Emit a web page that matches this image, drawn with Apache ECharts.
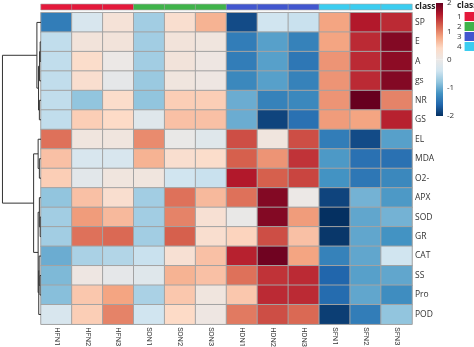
<!DOCTYPE html>
<html><head><meta charset="utf-8">
<script src="https://cdn.jsdelivr.net/npm/echarts@6/dist/echarts.min.js"></script>
<style>html,body{margin:0;padding:0;background:#fff}#c{width:474px;height:347px}</style>
</head><body><div id="c"></div>
<script>
const samples = ['HFN1','HFN2','HFN3','SDN1','SDN2','SDN3','HDN1','HDN2','HDN3','SFN1','SFN2','SFN3'];
const classes = [1,1,1,2,2,2,3,3,3,4,4,4];
const classColors = ['#e4193b','#3fb34a','#4257cf','#3bcdf0'];
const features = ['SP','E','A','gs','NR','GS','EL','MDA','O2-','APX','SOD','GR','CAT','SS','Pro','POD'];
// z-scores per feature, columns in sample order
const vSP  = [-1.4,-0.3, 0.2,-0.7, 0.3, 0.7,-1.8,-0.4,-0.45, 0.8, 1.6, 1.5];
const vE   = [-0.5, 0.15, 0.15,-0.7, 0.15, 0.1,-1.4,-1.1,-1.35, 0.8, 1.5, 1.85];
const vA   = [-0.5, 0.35, 0.0,-0.7, 0.15, 0.05,-1.4,-1.1,-1.45, 0.9, 1.5, 1.8];
const vgs  = [-0.5, 0.3,-0.1,-0.75, 0.1, 0.05,-1.3,-1.1,-1.35, 0.9, 1.5, 1.85];
const vNR  = [-0.5,-0.8, 0.35,-0.8, 0.5, 0.5,-1.0,-1.35,-1.3, 0.9, 2.0, 1.0];
const vGS  = [-0.5, 0.5, 0.4,-0.2, 0.6, 0.6,-1.0,-1.85,-1.5, 0.85, 0.8, 1.55];
const vEL  = [ 1.1, 0.1, 0.1, 0.95,-0.05,-0.2, 1.3, 0.1, 1.3,-1.4,-1.8,-1.1];
const vMDA = [ 0.6,-0.3,-0.3, 0.7, 0.3, 0.35, 1.2, 0.9, 1.45,-1.15,-1.5,-1.5];
const vO2  = [ 0.5,-0.15, 0.1, 0.1,-0.4,-0.45, 1.6, 1.2, 1.35,-1.2,-1.45,-1.3];
const vAPX = [-0.8, 0.6, 0.3,-0.7, 1.1, 0.65, 1.1, 1.85, 0.0,-1.85,-0.95,-1.15];
const vSOD = [-0.7, 0.85, 0.65,-0.7, 1.0, 0.25,-0.05, 1.85, 0.85,-2.0,-1.05,-0.95];
const vGR  = [-0.7, 1.1, 1.15,-0.7, 1.2, 0.3, 0.45, 1.3, 0.6,-1.95,-1.05,-1.2];
const vCAT = [-1.0,-0.65,-0.6,-0.45, 0.25, 0.6, 1.55, 1.95, 0.8,-1.35,-1.05,-0.4];
const vSS  = [-0.9, 0.05,-0.1,-0.2, 0.7, 0.6, 1.1, 1.45, 1.5,-1.6,-1.1,-1.05];
const vPro = [-0.85, 0.55, 0.8,-0.65, 0.55, 0.1, 0.55, 1.5, 1.5,-1.55,-1.05,-1.25];
const vPOD = [-0.3, 0.5, 1.0,-0.4, 0.4, 0.05, 1.05, 1.3, 1.15,-1.9,-1.4,-0.8];
const rows = [vSP,vE,vA,vgs,vNR,vGS,vEL,vMDA,vO2,vAPX,vSOD,vGR,vCAT,vSS,vPro,vPOD];
const scaleMin = -2, scaleMax = 2, scaleStep = 1;
// dendrogram merges: [leftNode, rightNode, height]; leaves 0..15, new nodes 16..
const merges = [
  [1,2,0.2],[16,3,0.35],[4,5,0.4],[17,18,0.6],[0,19,1.0],
  [7,8,0.4],[6,21,0.7],[10,11,0.2],[9,23,0.4],[13,14,0.25],[12,25,0.45],[26,15,0.55],[24,27,0.7],[22,28,1.8],
  [20,29,9.4]
];

const palette = ['#053061','#2166ac','#4393c3','#92c5de','#d1e5f0','#ece8e6','#fddbc7','#f4a582','#d6604d','#b2182b','#67001f'];
const heatData = [];
rows.forEach((r,i)=>r.forEach((v,j)=>heatData.push([j,i,v])));
const classData = classes.map((c,j)=>({value:[j,0,c], itemStyle:{color:classColors[c-1]}}));

// dendrogram segments
const nodeY = [], nodeH = [];
features.forEach((f,i)=>{nodeY[i]=i; nodeH[i]=0;});
const segs = [];
merges.forEach((m,k)=>{
  const id = features.length + k;
  const [a,b,h] = m;
  segs.push({coords:[[nodeH[a],nodeY[a]],[h,nodeY[a]],[h,nodeY[b]],[nodeH[b],nodeY[b]]]});
  nodeY[id] = (nodeY[a]+nodeY[b])/2; nodeH[id] = h;
});

// colour-bar gradients (upper half: 0..max, lower half: min..0)
const mid = (palette.length-1)/2;
const upperStops = palette.slice(mid).reverse().map((c,i,a)=>({offset:i/(a.length-1), color:c}));
const lowerStops = palette.slice(0, mid+1).reverse().map((c,i,a)=>({offset:i/(a.length-1), color:c}));

const FONT = 'Open Sans';
const L = 41, R = 62, T = 12.7, H = 311.5;
const chart = echarts.init(document.getElementById('c'));
chart.setOption({
  animation:false,
  textStyle:{fontFamily:FONT},
  grid:[
    {left:L, right:R, top:T, height:H, outerBoundsMode:'none', containLabel:false},
    {left:L, right:R, top:4.3, height:5.4, outerBoundsMode:'none', containLabel:false},
    {left:436, top:3, width:7, height:113, outerBoundsMode:'none', containLabel:false},
    {left:0, width:L, top:T, height:H, outerBoundsMode:'none', containLabel:false}
  ],
  xAxis:[
    {type:'category', gridIndex:0, data:samples, axisLine:{show:false}, axisTick:{show:false},
     axisLabel:{rotate:-90, fontSize:7.5, color:'#333', margin:3, fontFamily:'Roboto'}},
    {type:'category', gridIndex:1, data:samples, show:false},
    {type:'category', gridIndex:2, data:['s'], show:false},
    {type:'value', gridIndex:3, min:0, max:10, inverse:true, show:false}
  ],
  yAxis:[
    {type:'category', gridIndex:0, data:features, inverse:true, position:'right', axisLine:{show:false}, axisTick:{show:false},
     axisLabel:{fontSize:8.5, color:'#333', margin:3, fontFamily:FONT}},
    {type:'category', gridIndex:1, data:['class'], position:'right', axisLine:{show:false}, axisTick:{show:false},
     axisLabel:{fontSize:8.5, fontWeight:'bold', color:'#222', margin:3, fontFamily:FONT}},
    {type:'value', gridIndex:2, min:scaleMin, max:scaleMax, interval:scaleStep, position:'right', axisLine:{show:false}, axisTick:{show:false},
     splitLine:{show:false}, axisLabel:{fontSize:8, color:'#333', margin:4, fontFamily:FONT}},
    {type:'value', gridIndex:3, min:-0.5, max:15.5, inverse:true, show:false}
  ],
  visualMap:[
    {type:'continuous', seriesIndex:0, min:scaleMin, max:scaleMax, inRange:{color:palette}, show:false},
    {type:'piecewise', seriesIndex:1, show:true, left:457, top:12, itemWidth:10, itemHeight:9, itemGap:1, padding:0,
     inverse:true, itemSymbol:'rect', textGap:3, textStyle:{fontSize:8, color:'#333', fontFamily:FONT},
     pieces: classes.filter((c,i,a)=>a.indexOf(c)===i).map(c=>({value:c, label:String(c), color:classColors[c-1]}))}
  ],
  title:{text:'class', left:457, top:1, padding:0, textStyle:{fontSize:8.5, fontWeight:'bold', color:'#222', fontFamily:FONT}},
  series:[
    {type:'heatmap', xAxisIndex:0, yAxisIndex:0, data:heatData, itemStyle:{borderColor:'#a3a3a3', borderWidth:1}, emphasis:{disabled:true}},
    {type:'heatmap', xAxisIndex:1, yAxisIndex:1, data:classData, itemStyle:{borderColor:'#a3a3a3', borderWidth:0.6}, emphasis:{disabled:true}},
    {type:'lines', coordinateSystem:'cartesian2d', xAxisIndex:3, yAxisIndex:3, polyline:true, data:segs,
     lineStyle:{color:'#333', width:1, opacity:1}, silent:true},
    {type:'bar', xAxisIndex:2, yAxisIndex:2, stack:'cb', barWidth:'100%', silent:true, data:[scaleMax],
     itemStyle:{color:new echarts.graphic.LinearGradient(0,0,0,1, upperStops)}},
    {type:'bar', xAxisIndex:2, yAxisIndex:2, stack:'cb', barWidth:'100%', silent:true, data:[scaleMin],
     itemStyle:{color:new echarts.graphic.LinearGradient(0,0,0,1, lowerStops)}}
  ]
});
</script></body></html>
